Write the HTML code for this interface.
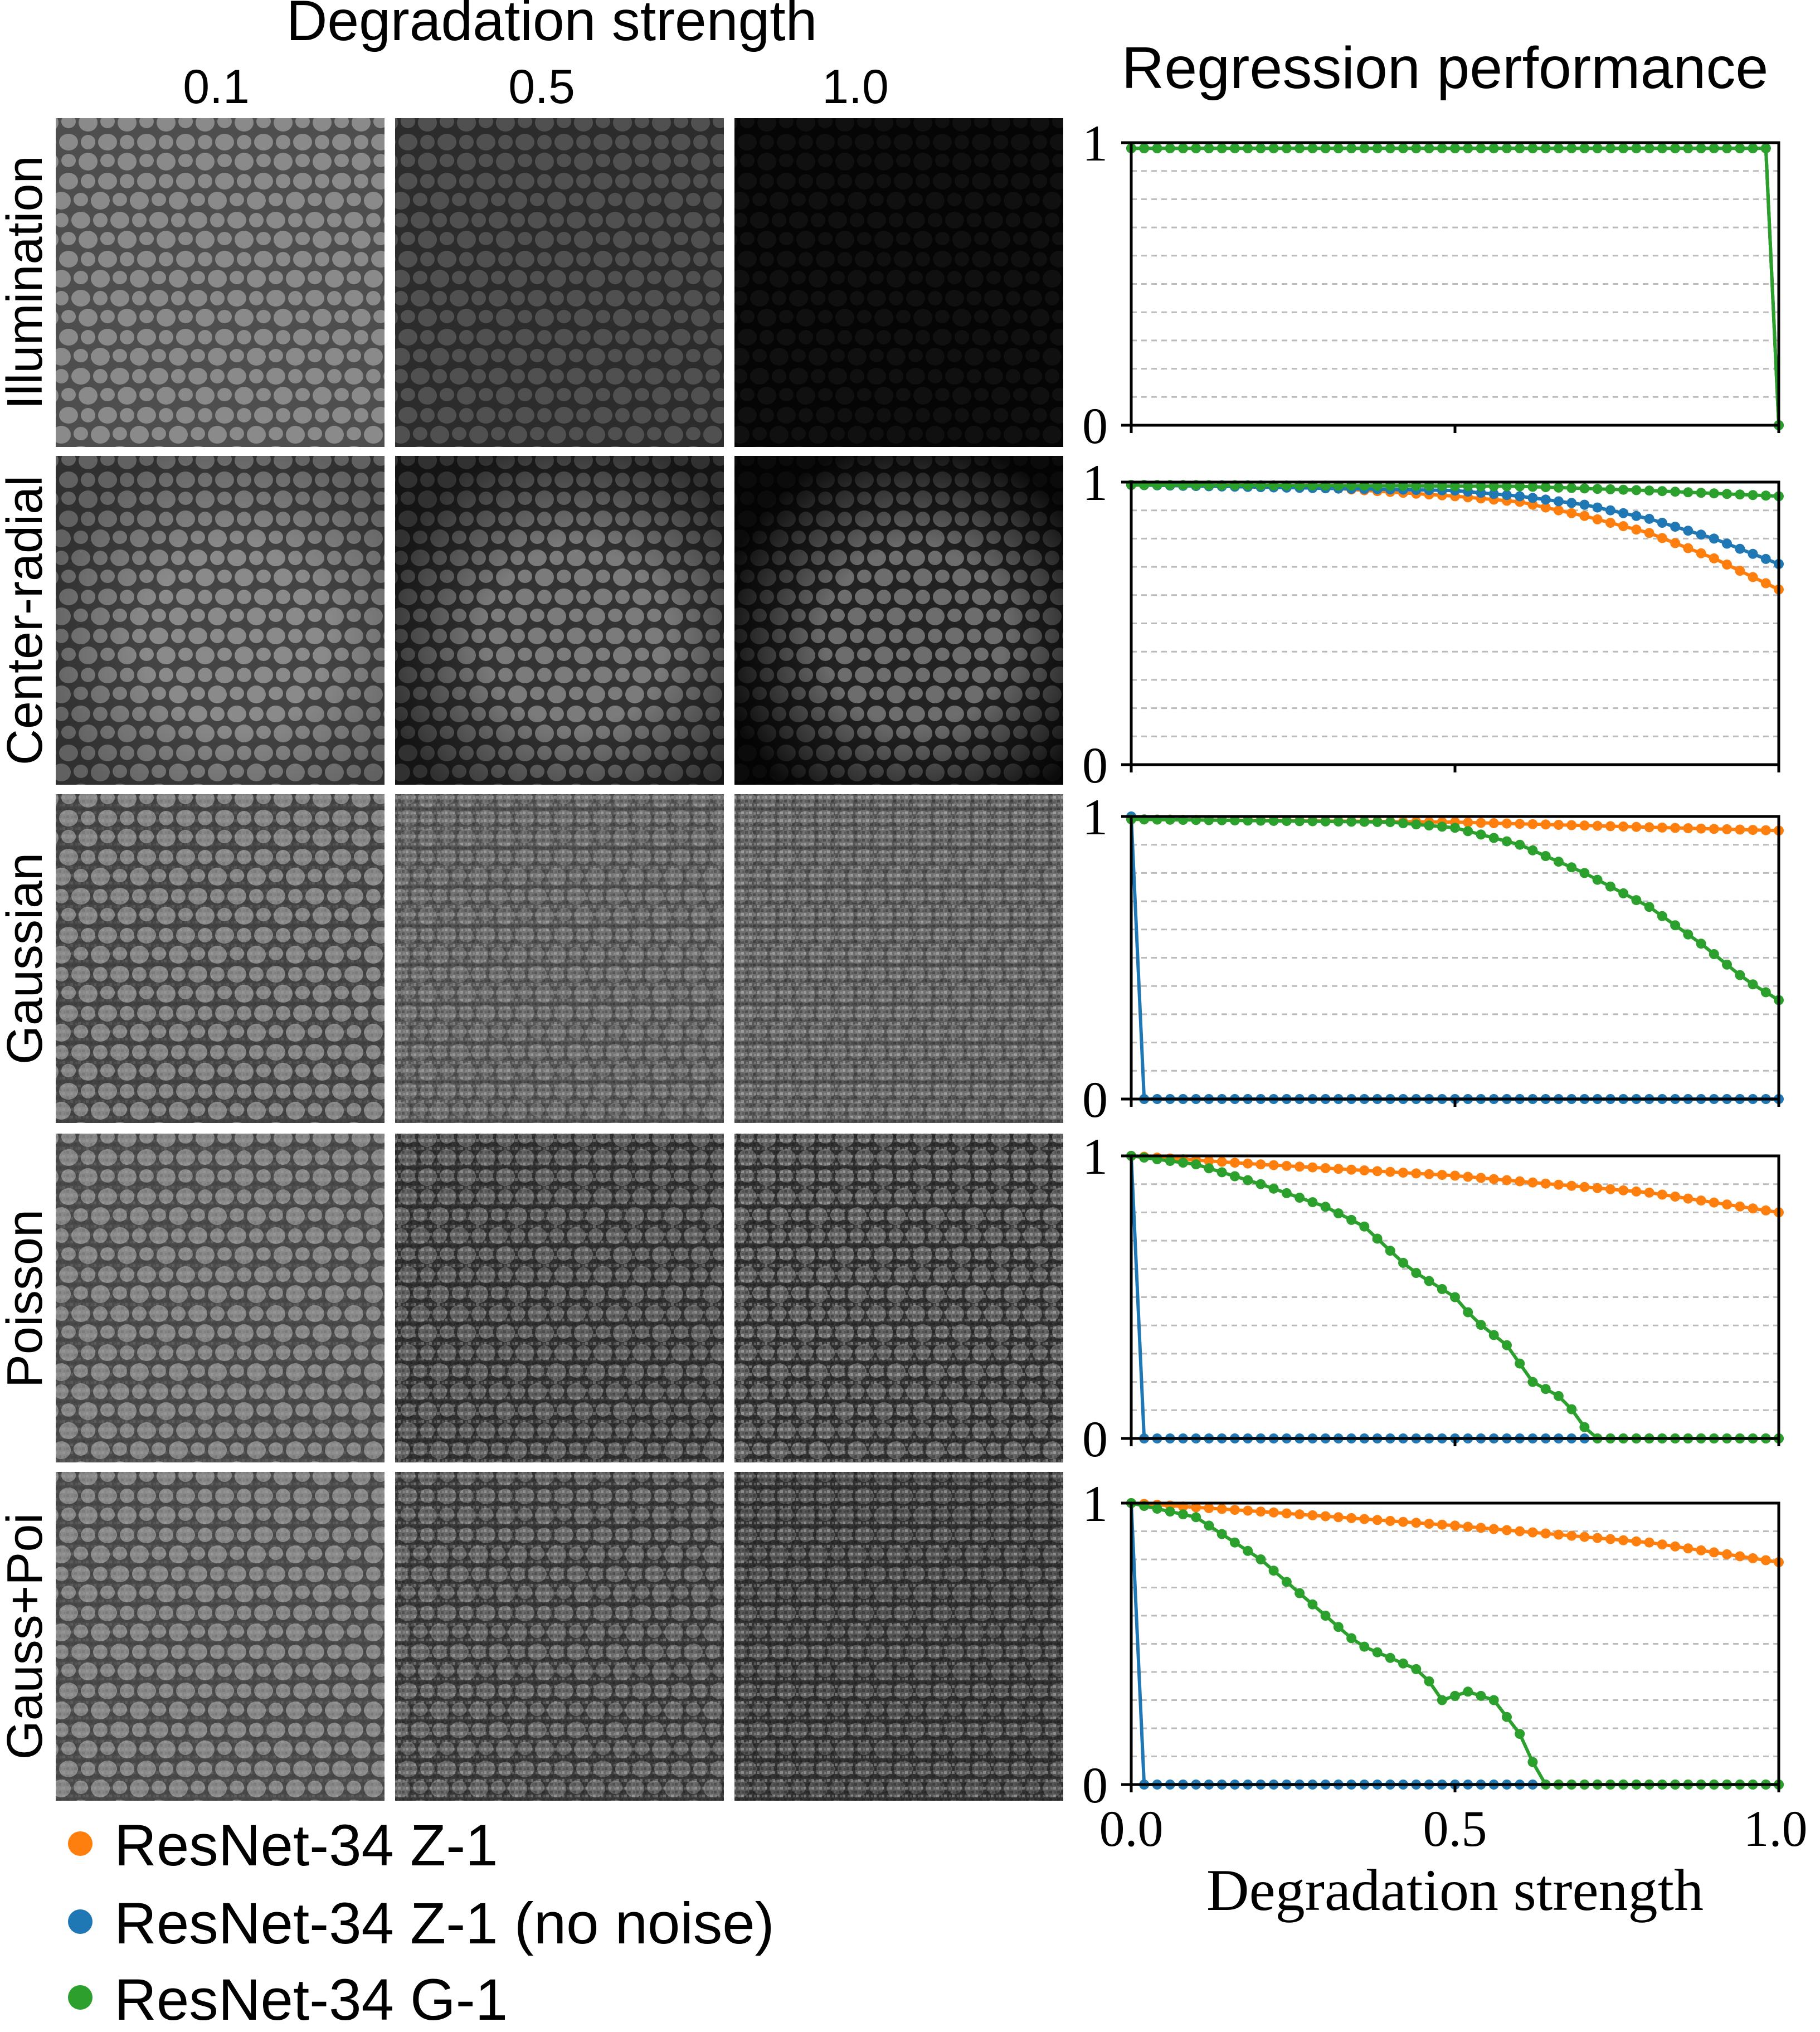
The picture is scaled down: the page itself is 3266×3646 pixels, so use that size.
<!DOCTYPE html>
<html><head><meta charset="utf-8"><style>
html,body{margin:0;padding:0;background:#fff;}
body{width:3266px;height:3646px;position:relative;overflow:hidden;font-family:"Liberation Sans",sans-serif;}
</style></head><body>
<svg id="s" width="3266" height="3646" xmlns="http://www.w3.org/2000/svg" style="position:absolute;left:0;top:0">
<defs>
<pattern id="noise" width="14" height="14" patternUnits="userSpaceOnUse">
<rect x="0" y="0" width="5" height="5" fill="#fff"/><rect x="7" y="7" width="5" height="5" fill="#000"/>
<rect x="9" y="1" width="4" height="4" fill="#fff" fill-opacity=".6"/><rect x="2" y="8" width="4" height="4" fill="#000" fill-opacity=".6"/>
</pattern>
<radialGradient id="vig" cx="0.55" cy="0.55" r="0.6">
<stop offset="0.45" stop-color="#000" stop-opacity="0"/><stop offset="1" stop-color="#000" stop-opacity="1"/>
</radialGradient>
<marker id="mo" markerWidth="24" markerHeight="24" refX="12" refY="12" markerUnits="userSpaceOnUse"><circle cx="12" cy="12" r="9" fill="#ff7f0e"/></marker>
<marker id="mb" markerWidth="24" markerHeight="24" refX="12" refY="12" markerUnits="userSpaceOnUse"><circle cx="12" cy="12" r="9" fill="#1f77b4"/></marker>
<marker id="mg" markerWidth="24" markerHeight="24" refX="12" refY="12" markerUnits="userSpaceOnUse"><circle cx="12" cy="12" r="9" fill="#2ca02c"/></marker>
</defs>
<g id="tiles"></g>
<g id="plots"></g>
<g font-family="Liberation Sans, sans-serif" fill="#000">
<text x="990" y="72" font-size="102" text-anchor="middle">Degradation strength</text>
<text x="388" y="185" font-size="86" text-anchor="middle">0.1</text>
<text x="972" y="185" font-size="86" text-anchor="middle">0.5</text>
<text x="1535" y="185" font-size="86" text-anchor="middle">1.0</text>
<text x="2593" y="158" font-size="106" text-anchor="middle">Regression performance</text>
<text transform="translate(75,507) rotate(-90)" font-size="90" text-anchor="middle">Illumination</text>
<text transform="translate(75,1113) rotate(-90)" font-size="90" text-anchor="middle">Center-radial</text>
<text transform="translate(75,1720) rotate(-90)" font-size="90" text-anchor="middle">Gaussian</text>
<text transform="translate(75,2330) rotate(-90)" font-size="90" text-anchor="middle">Poisson</text>
<text transform="translate(75,2936) rotate(-90)" font-size="90" text-anchor="middle">Gauss+Poi</text>
<circle cx="144" cy="3308" r="22" fill="#ff7f0e"/>
<circle cx="144" cy="3448" r="22" fill="#1f77b4"/>
<circle cx="144" cy="3584" r="22" fill="#2ca02c"/>
<text x="205" y="3347" font-size="105">ResNet-34 Z-1</text>
<text x="205" y="3487" font-size="105">ResNet-34 Z-1 (no noise)</text>
<text x="205" y="3624" font-size="105">ResNet-34 G-1</text>
</g>
<g font-family="Liberation Serif, serif" fill="#000">
<text x="2030" y="3312" font-size="92" text-anchor="middle">0.0</text>
<text x="2611" y="3312" font-size="92" text-anchor="middle">0.5</text>
<text x="3186" y="3312" font-size="92" text-anchor="middle">1.0</text>
<text x="2611" y="3427" font-size="106" text-anchor="middle">Degradation strength</text>
</g>
</svg>
<script>
var NS="http://www.w3.org/2000/svg";
function el(p,n,a){var e=document.createElementNS(NS,n);for(var k in a)e.setAttribute(k,a[k]);p.appendChild(e);return e;}
var cols=[100,709,1318],rows=[212,818,1425,2034,2641],W=590;
var tg=document.getElementById('tiles');
var cfg=[
[["#4e4e4e","#9a9a9a",.8,0,0],["#2c2c2c","#5a5a5a",.8,0,0],["#050505","#181818",.6,0,0]],
[["#444","#9c9c9c",.8,0,.3],["#333","#8e8e8e",.8,0,.6],["#222","#808080",.8,0,.9]],
[["#444","#9a9a9a",.8,.1,0],["#555","#8a8a8a",.6,.25,0],["#585858","#888",.5,.3,0]],
[["#4a4a4a","#999",.8,.1,0],["#333","#7a7a7a",.7,.25,0],["#333","#7c7c7c",.7,.3,0]],
[["#4a4a4a","#999",.8,.1,0],["#3a3a3a","#808080",.7,.25,0],["#333","#707070",.6,.3,0]]];
var P=70;
for(var r=0;r<5;r++)for(var c=0;c<3;c++){
 var x=cols[c],y=rows[r],q=cfg[r][c];
 el(tg,'rect',{x:x,y:y,width:W,height:W,fill:q[0]});
 var clip=el(tg,'clipPath',{id:'c'+r+c});el(clip,'rect',{x:x,y:y,width:W,height:W});
 var gg=el(tg,'g',{opacity:q[2],'clip-path':'url(#c'+r+c+')'});
 for(var yy=y-10;yy<y+W;yy+=P)for(var xx=x-30;xx<x+W;xx+=P){
  var o=((yy-y)/P|0)%2?22:0;
  el(gg,'ellipse',{cx:xx+18+o,cy:yy+18,rx:17,ry:16,fill:q[1]});
  el(gg,'ellipse',{cx:xx+53+o,cy:yy+53,rx:17,ry:15,fill:q[1]});
  el(gg,'ellipse',{cx:xx+53+o,cy:yy+16,rx:13,ry:12,fill:q[1]});
  el(gg,'ellipse',{cx:xx+18+o,cy:yy+53,rx:13,ry:13,fill:q[1]});
 }
 if(q[3])el(tg,'rect',{x:x,y:y,width:W,height:W,fill:'url(#noise)',opacity:q[3]});
 if(q[4])el(tg,'rect',{x:x,y:y,width:W,height:W,fill:'url(#vig)',opacity:q[4]});
}
var pg=document.getElementById('plots');
var X0=2030,X1=3192;
var pys=[[256,763],[865,1372],[1465,1972],[2074,2581],[2697,3202]];
function interp(pts,t){for(var i=1;i<pts.length;i++){if(t<=pts[i][0]){var a=pts[i-1],b=pts[i];return a[1]+(b[1]-a[1])*(t-a[0])/(b[0]-a[0]);}}return pts[pts.length-1][1];}
var data=[
 {o:[[0,.98],[.98,.98],[1,0]],b:[[0,.98],[.98,.98],[1,0]],g:[[0,.98],[.98,.98],[1,0]]},
 {o:[[0,.99],[.3,.98],[.5,.95],[.6,.93],[.7,.88],[.8,.82],[.9,.73],[1,.62]],b:[[0,.99],[.5,.97],[.6,.95],[.7,.92],[.8,.87],[.9,.8],[1,.71]],g:[[0,.99],[.6,.985],[.8,.97],[1,.95]]},
 {o:[[0,.99],[.5,.98],[1,.95]],b:[[0,1],[.02,0],[1,0]],g:[[0,.99],[.4,.98],[.5,.96],[.6,.9],[.7,.8],[.8,.68],[.88,.55],[.95,.42],[1,.35]]},
 {o:[[0,1],[.2,.97],[.5,.93],[.8,.87],[1,.8]],b:[[0,1],[.02,0],[1,0]],g:[[0,1],[.1,.97],[.2,.9],[.3,.82],[.36,.75],[.43,.6],[.5,.5],[.53,.42],[.58,.33],[.62,.2],[.66,.15],[.69,.08],[.71,0],[1,0]]},
 {o:[[0,1],[.2,.97],[.5,.92],[.8,.86],[1,.79]],b:[[0,1],[.02,0],[1,0]],g:[[0,1],[.1,.95],[.2,.8],[.3,.6],[.35,.5],[.4,.45],[.45,.4],[.48,.3],[.52,.33],[.56,.3],[.6,.18],[.62,.08],[.63,0],[1,0]]}];
var colors={o:'#ff7f0e',b:'#1f77b4',g:'#2ca02c'};
for(var p=0;p<5;p++){
 var y1=pys[p][0],y0=pys[p][1];
 for(var k=1;k<10;k++){var yy=y0-(y0-y1)*k/10;el(pg,'line',{x1:X0,x2:X1,y1:yy,y2:yy,stroke:'#bbb','stroke-width':3,'stroke-dasharray':'10 8'});}
 var order=p<3?['o','b','g']:['b','o','g'];
 order.forEach(function(s){var pts=[];for(var i=0;i<=50;i++){var t=i/50;var v=interp(data[p][s],t);pts.push((X0+(X1-X0)*t).toFixed(1)+','+(y0-(y0-y1)*v).toFixed(1));}
  el(pg,'polyline',{points:pts.join(' '),fill:'none',stroke:colors[s],'stroke-width':6,'marker-start':'url(#m'+s+')','marker-mid':'url(#m'+s+')','marker-end':'url(#m'+s+')'});});
 el(pg,'rect',{x:X0,y:y1,width:X1-X0,height:y0-y1,fill:'none',stroke:'#000','stroke-width':5});
 [0,.5,1].forEach(function(t){var xx=X0+(X1-X0)*t;el(pg,'line',{x1:xx,x2:xx,y1:y0,y2:y0+14,stroke:'#000','stroke-width':5});});
 el(pg,'line',{x1:X0-18,x2:X0,y1:y1,y2:y1,stroke:'#000','stroke-width':5});
 el(pg,'line',{x1:X0-18,x2:X0,y1:y0,y2:y0,stroke:'#000','stroke-width':5});
 var t1=el(pg,'text',{x:1965,y:y1+32,'font-size':92,'font-family':'Liberation Serif, serif','text-anchor':'middle'});t1.textContent='1';
 var t0=el(pg,'text',{x:1965,y:y0+32,'font-size':92,'font-family':'Liberation Serif, serif','text-anchor':'middle'});t0.textContent='0';
}
</script>
</body></html>
